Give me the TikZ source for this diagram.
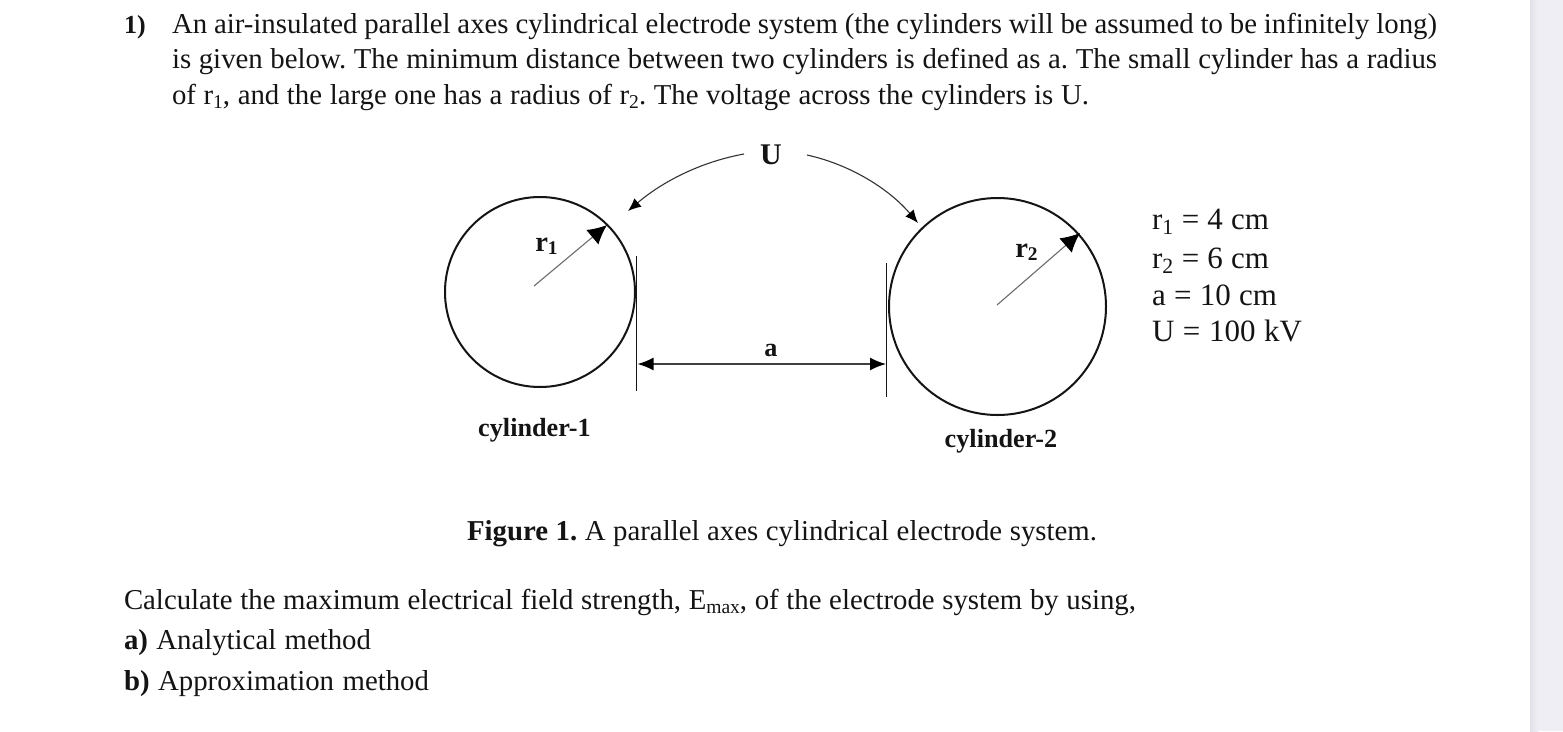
\documentclass[tikz,border=0pt]{standalone}
\usepackage{fontspec}
\setmainfont{Liberation Serif}
\usetikzlibrary{arrows.meta}
\frenchspacing
\definecolor{inkc}{HTML}{141414}
\definecolor{stripc}{HTML}{EFEEF5}
\definecolor{stripd}{HTML}{E2E1E8}
\newcommand{\sbb}[1]{\raisebox{-0.14em}{\scalebox{0.68}{#1}}}
\newcommand{\fitline}[2]{\makebox[#1pt][s]{#2}}
\tikzset{
  x=1pt,y=-1pt,
  body/.style={anchor=base west,inner sep=0pt,outer sep=0pt,text=inkc,font=\fontsize{28.8}{30}\selectfont},
  fig/.style={anchor=base,inner sep=0pt,outer sep=0pt,text=inkc,font=\fontsize{26.2}{28}\selectfont\bfseries},
  rlab/.style={fig,font=\fontsize{28.5}{30}\selectfont\bfseries},
  given/.style={anchor=base west,inner sep=0pt,outer sep=0pt,text=inkc,font=\fontsize{31}{33}\selectfont},
  cyl/.style={draw=inkc,line width=2pt,circle,inner sep=0pt,minimum size=#1},
  guide/.style={draw=inkc,line width=1.3pt},
  radius line/.style={draw=gray!85!black,line width=1.1pt,-{Latex[length=19pt,width=19pt,black]}},
  gap line/.style={draw=black!75,line width=1.5pt,{Latex[length=16pt,width=13pt,black]}-{Latex[length=16pt,width=13pt,black]}},
  volt line/.style={draw=black!80,line width=1.1pt,-{Latex[length=13pt,width=11pt,black]}},
}
\begin{document}
\begin{tikzpicture}
\useasboundingbox (0,0) rectangle (1563,731);
\fill[white] (0,0) rectangle (1563,731);
\fill[stripc] (1530,0) rectangle (1563,731);
\shade[left color=stripd,right color=stripc] (1530,0) rectangle (1538,731);

\node[body,font=\fontsize{26}{28}\selectfont\bfseries] (num) at (124,33) {1)};
\node[body] (l1) at (172,33) {\fitline{1265}{An air-insulated parallel axes cylindrical electrode system (the cylinders will be assumed to be infinitely long)}};
\node[body] (l2) at (172,68) {\fitline{1265}{is given below. The minimum distance between two cylinders is defined as a. The small cylinder has a radius}};
\node[body] (l3) at (172,104) {\fitline{917}{of r\sbb{1}, and the large one has a radius of r\sbb{2}. The voltage across the cylinders is U.}};

\node[cyl=190pt] (c1) at (540,292) {};
\node[cyl=217pt] (c2) at (997.5,306.5) {};

\coordinate (c1o) at (534,286);
\coordinate (c1e) at (607,225);
\coordinate (c2o) at (997,305);
\coordinate (c2e) at (1080,233);
\draw[radius line] (c1o) -- (c1e);
\draw[radius line] (c2o) -- (c2e);

\coordinate (g1t) at (636.5,256);
\coordinate (g1b) at (636.5,391);
\coordinate (g2t) at (886.5,263);
\coordinate (g2b) at (886.5,397);
\draw[guide] (g1t) -- (g1b);
\draw[guide] (g2t) -- (g2b);
\coordinate (ga) at (637.5,364);
\coordinate (gb) at (886,364);
\draw[gap line] (ga) -- (gb);

\node[fig,font=\fontsize{30}{32}\selectfont\bfseries] (U) at (771,164) {U};
\coordinate (ua) at (744,154);
\coordinate (ub) at (628,211);
\coordinate (uc) at (807,155);
\coordinate (ud) at (918,223);
\draw[volt line] (ua) .. controls (700,162) and (662,182) .. (ub);
\draw[volt line] (uc) .. controls (852,165) and (890,190) .. (ud);

\node[rlab] (ra) at (546.5,251) {r\sbb{1}};
\node[rlab] (rb) at (1026.5,257) {r\sbb{2}};
\node[fig] (alab) at (771,356) {a};
\node[fig] (cyla) at (534.5,436) {cylinder-1};
\node[fig] (cylb) at (1001,447) {cylinder-2};

\node[given] (g1) at (1152,229) {\fitline{117}{r\textsubscript{1} = 4 cm}};
\node[given] (g2) at (1152,268) {\fitline{117}{r\textsubscript{2} = 6 cm}};
\node[given] (g3) at (1152,305) {\fitline{125}{a = 10 cm}};
\node[given] (g4) at (1152,341) {\fitline{150}{U = 100 kV}};

\node[body] (cap) at (467,540) {\fitline{630}{\textbf{Figure 1.} A parallel axes cylindrical electrode system.}};
\node[body] (q) at (124,609) {\fitline{1012}{Calculate the maximum electrical field strength, E\sbb{max}, of the electrode system by using,}};
\node[body] (qa) at (124,649) {\fitline{247}{\textbf{a)} Analytical method}};
\node[body] (qb) at (124,690) {\fitline{305}{\textbf{b)} Approximation method}};
\end{tikzpicture}
\end{document}
